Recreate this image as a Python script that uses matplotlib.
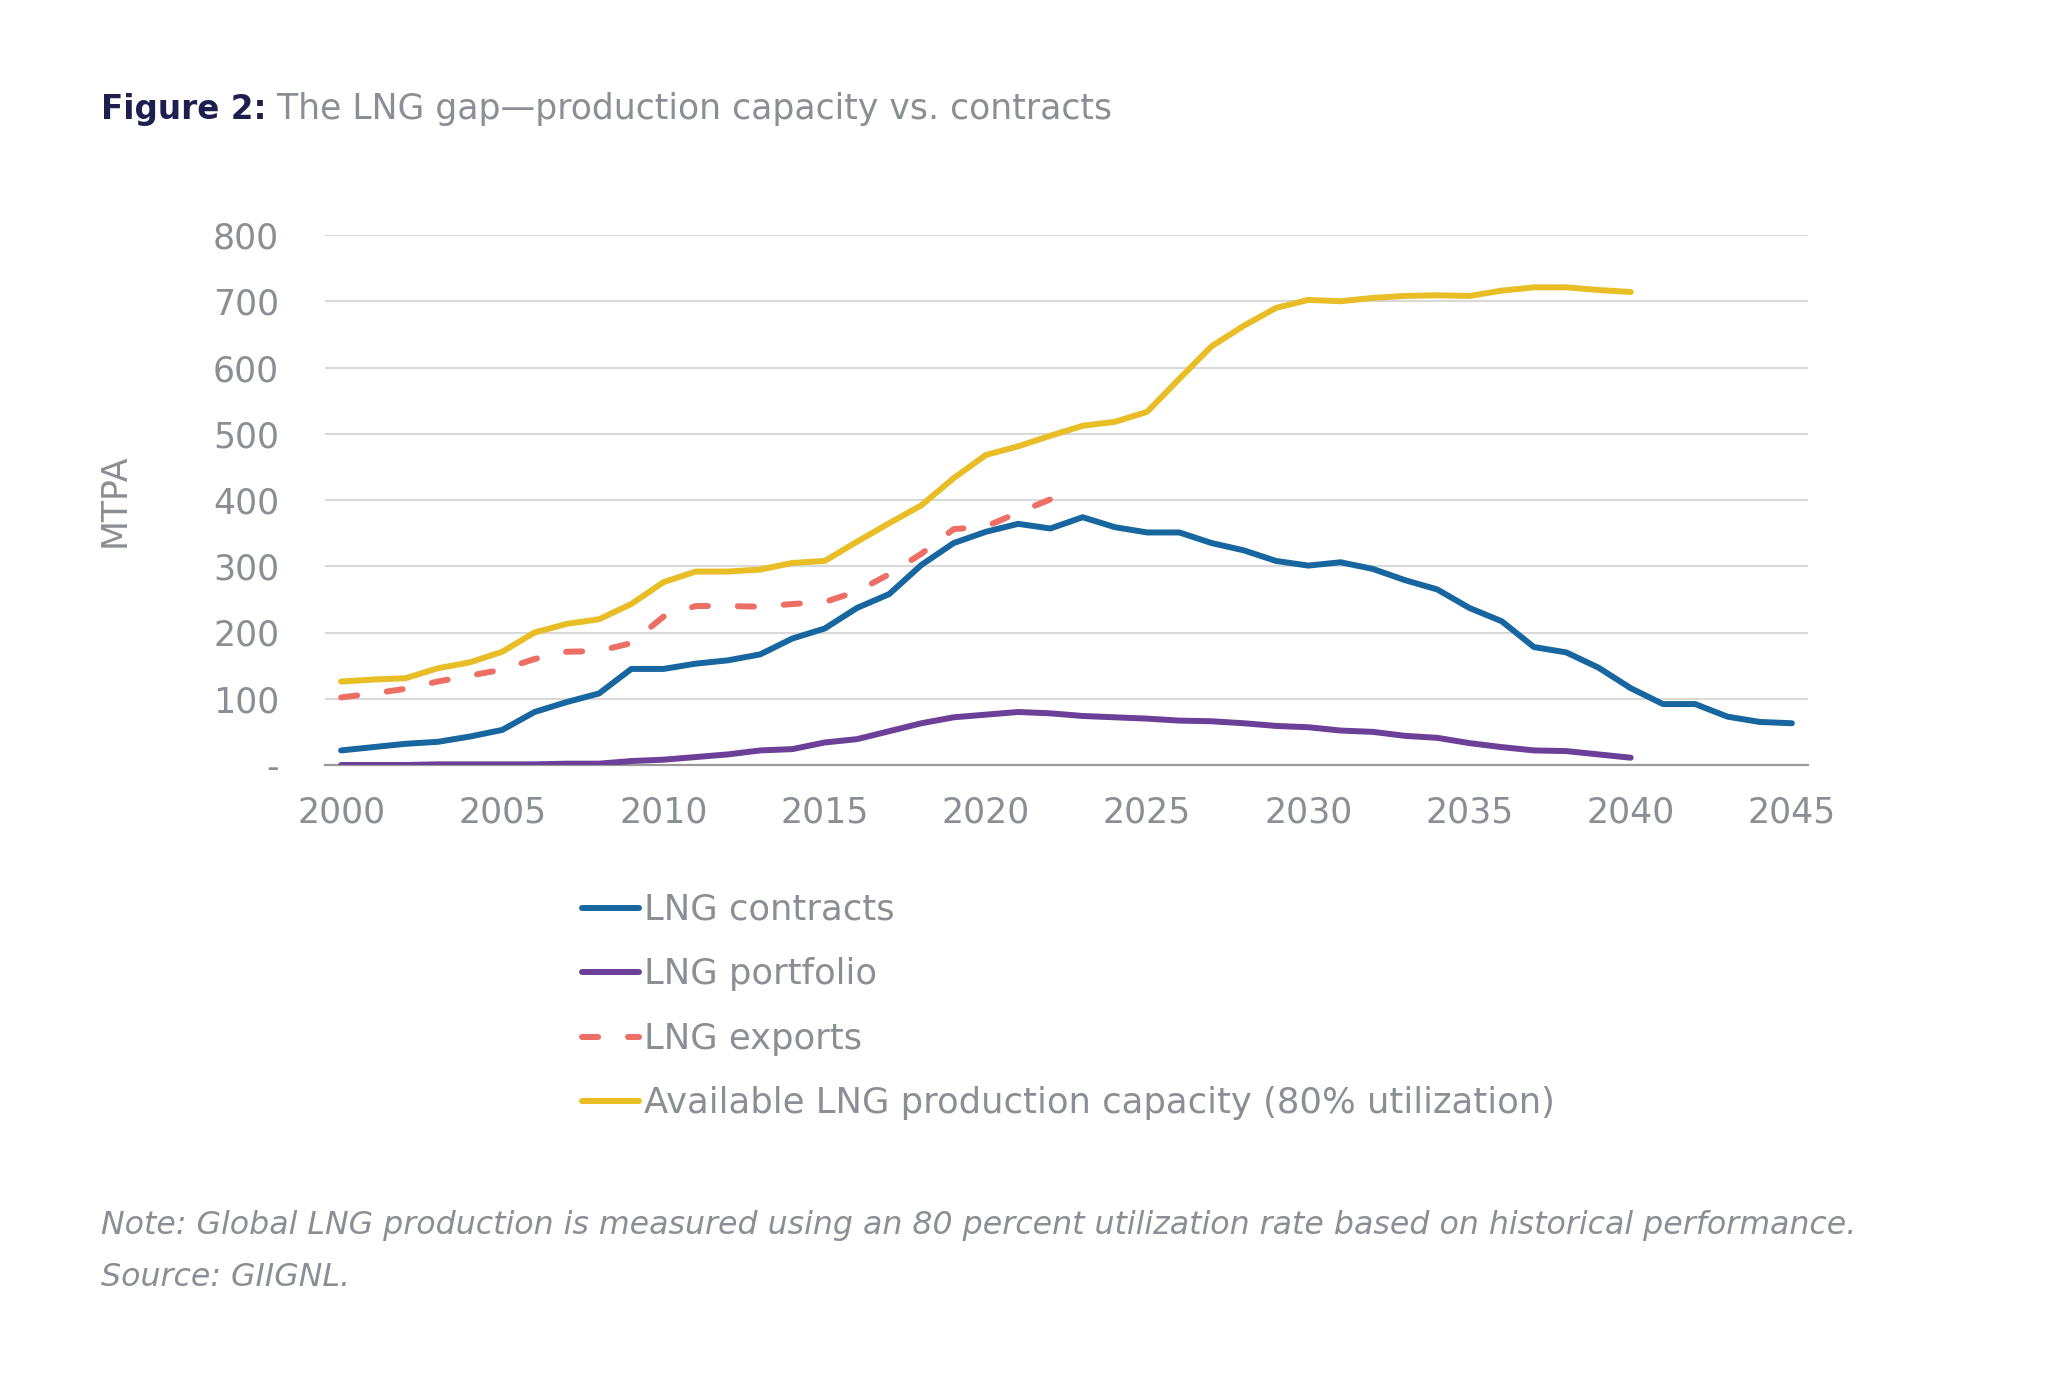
import matplotlib
matplotlib.use("Agg")
import matplotlib.pyplot as plt

plt.rcParams['font.family'] = ['DejaVu Sans']

# ---------------- data ----------------
years_contracts = list(range(2000, 2046))
contracts = [22, 27, 32, 35, 43, 53, 80, 95, 108, 145,
             145, 153, 158, 167, 191, 206, 237, 258, 302, 335,
             352, 364, 357, 374, 359, 351, 351, 335, 324, 308,
             301, 306, 296, 279, 265, 237, 217, 178, 170, 147,
             116, 92, 92, 73, 65, 63]

years_portfolio = list(range(2000, 2041))
portfolio = [0, 0, 0, 1, 1, 1, 1, 2, 2, 6,
             8, 12, 16, 22, 24, 34, 39, 51, 63, 72,
             76, 80, 78, 74, 72, 70, 67, 66, 63, 59,
             57, 52, 50, 44, 41, 33, 27, 22, 21, 16,
             11]

years_exports = list(range(2000, 2023))
exports = [102, 108, 115, 126, 135, 144, 160, 171, 172, 184,
           224, 240, 240, 239, 243, 246, 262, 288, 319, 356,
           360, 381, 401]

years_capacity = list(range(2000, 2041))
capacity = [126, 129, 131, 146, 155, 171, 200, 213, 220, 243,
            276, 292, 292, 295, 305, 308, 337, 365, 392, 433,
            468, 481, 497, 512, 518, 533, 583, 632, 663, 690,
            702, 700, 705, 708, 709, 708, 716, 721, 721, 717,
            714]

series_labels = ["LNG contracts", "LNG portfolio", "LNG exports",
                 "Available LNG production capacity (80% utilization)"]
x_ticks = [2000, 2005, 2010, 2015, 2020, 2025, 2030, 2035, 2040, 2045]
y_ticks = [0, 100, 200, 300, 400, 500, 600, 700, 800]
y_tick_labels = ["-", "100", "200", "300", "400", "500", "600", "700", "800"]

title_bold = "Figure 2:"
title_rest = " The LNG gap\u2014production capacity vs. contracts"
y_label = "MTPA"
note_lines = ["Note: Global LNG production is measured using an 80 percent utilization rate based on historical performance.",
              "Source: GIIGNL."]

# ---------------- style ----------------
C_BLUE = "#17669f"
C_PURPLE = "#6c3f98"
C_RED = "#ec6e64"
C_YELLOW = "#e9bd26"
C_GRAY = "#8b8e94"
C_NAVY = "#1d1f4f"
LW = 4.3

W, H = 2048, 1386
fig = plt.figure(figsize=(W / 100, H / 100), dpi=100)
ax = fig.add_axes([325 / W, 1 - 765 / H, (1808 - 325) / W, (765 - 235) / H])

l1, = ax.plot(years_contracts, contracts, color=C_BLUE, lw=LW,
              solid_capstyle='round', solid_joinstyle='round', zorder=3)
l2, = ax.plot(years_portfolio, portfolio, color=C_PURPLE, lw=LW,
              solid_capstyle='round', solid_joinstyle='round', zorder=3)
l3, = ax.plot(years_exports, exports, color=C_RED, lw=LW,
              dashes=(2.7, 5.0), dash_capstyle='round', zorder=3)
l4, = ax.plot(years_capacity, capacity, color=C_YELLOW, lw=LW,
              solid_capstyle='round', solid_joinstyle='round', zorder=3)

ax.set_xlim(1999.5, 2045.5)
ax.set_ylim(0, 800)
ax.set_xticks(x_ticks)
ax.set_yticks(y_ticks)
ax.set_yticklabels(y_tick_labels)
ax.tick_params(axis='both', length=0, labelsize=25, labelcolor=C_GRAY)
ax.tick_params(axis='x', pad=22)
ax.tick_params(axis='y', pad=33)

for s in ['top', 'right', 'left']:
    ax.spines[s].set_visible(False)
ax.spines['bottom'].set_color('#9a9a9a')
ax.spines['bottom'].set_linewidth(1.6)
ax.spines['bottom'].set_zorder(2)
ax.grid(axis='y', color='#d9d9d9', lw=1.5, zorder=0)
ax.set_axisbelow(True)

fig.text(115 / W, 1 - 500 / H, y_label, rotation=90, ha='center', va='center',
         fontsize=25, color=C_GRAY)

# title (two parts sharing one baseline)
title_y = 1 - 119 / H
t1 = fig.text(101 / W, title_y, title_bold, ha='left', va='baseline',
              fontsize=23.5, fontweight='bold', color=C_NAVY)
fig.canvas.draw()
bb = t1.get_window_extent()
fig.text(bb.x1 / W, title_y, title_rest, ha='left', va='baseline',
         fontsize=24.9, color=C_GRAY)

# legend
leg = fig.legend([l1, l2, l3, l4], series_labels, loc='upper left',
                 bbox_to_anchor=(582 / W, 1 - 893 / H), frameon=False,
                 fontsize=25.5, labelcolor=C_GRAY, handlelength=1.6,
                 handletextpad=0.15, labelspacing=0.86, borderpad=0,
                 borderaxespad=0)

# notes
fig.text(101 / W, 1 - 1234 / H, note_lines[0], ha='left', va='baseline',
         fontsize=22.8, style='italic', color=C_GRAY)
fig.text(101 / W, 1 - 1286 / H, note_lines[1], ha='left', va='baseline',
         fontsize=22.8, style='italic', color=C_GRAY)

fig.savefig("out.png", dpi=100, facecolor='white')
